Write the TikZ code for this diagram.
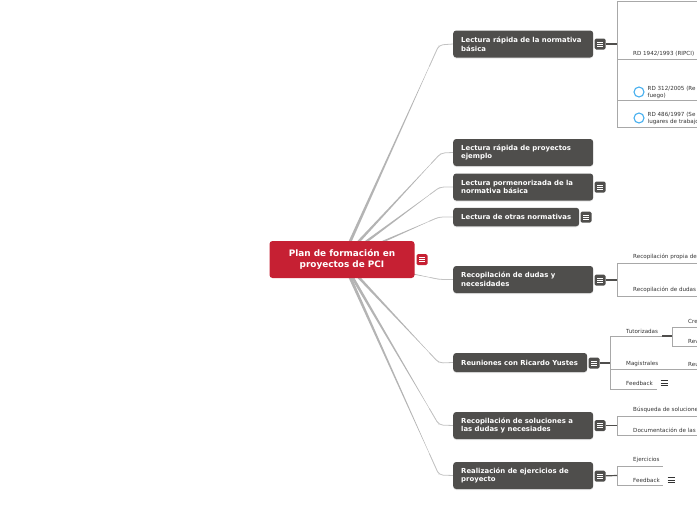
\documentclass[tikz,border=0pt]{standalone}
\usepackage{fontspec}
\setmainfont{DejaVu Sans}
\usetikzlibrary{calc,backgrounds,shadows}
\definecolor{rootred}{HTML}{C62033}
\definecolor{topicgray}{HTML}{4F4E4C}
\definecolor{branchgray}{HTML}{B4B4B4}
\definecolor{leafgray}{HTML}{A8A8A8}
\definecolor{ringblue}{HTML}{45AEEE}
\tikzset{
	topic/.style={fill=topicgray,text=white,font=\bfseries\fontsize{6.9}{8.6}\selectfont,rounded corners=3,anchor=west,align=flush left,inner xsep=8,inner ysep=0,minimum height=27,text width=124,drop shadow={shadow xshift=0pt,shadow yshift=-1pt,opacity=.2}},
	rootnode/.style={fill=rootred,text=white,font=\bfseries\fontsize{8.9}{11}\selectfont,rounded corners=3,align=center,minimum width=145,minimum height=37,inner sep=0},
	leaf/.style={font=\fontsize{5.6}{7}\selectfont,text=black!80,anchor=west,align=left,inner sep=0},
	menubox/.style={fill=#1,rounded corners=1.5,minimum size=11,inner sep=0,path picture={
		\foreach \i in {-2.2,0,2.2}
			\draw[white,line width=.6] ($(path picture bounding box.center)+(-3,\i)$) -- ++(6,0);}},
	menuplain/.style={minimum size=9,inner sep=0,path picture={
		\foreach \i in {-2.6,0,2.6}
			\draw[black!80,line width=.6] ($(path picture bounding box.center)+(-3.5,\i)$) -- ++(7,0);}},
	ring/.style={circle,draw=ringblue,line width=1.1,minimum size=10,inner sep=0},
	stem/.style={draw=topicgray,line width=1.2},
	leafline/.style={draw=leafgray,line width=.8},
}
\begin{document}
\begin{tikzpicture}[x=1pt,y=-1pt]
	\useasboundingbox[clip] (0,0) rectangle (697,520);
	%main topics
	\node[rootnode] (root) at (342,259.5) {Plan de formación en\\proyectos de PCI};
	\node[topic] (rapida) at (453,44) {Lectura rápida de la normativa\\básica};
	\node[topic] (ejemplo) at (453,152.5) {Lectura rápida de proyectos\\ejemplo};
	\node[topic] (pormenor) at (453,187) {Lectura pormenorizada de la\\normativa básica};
	\node[topic,minimum height=18.5,text width=110] (otras) at (453,217) {Lectura de otras normativas};
	\node[topic] (dudas) at (453,279.5) {Recopilación de dudas y\\necesidades};
	\node[topic,minimum height=19,text width=118] (reuniones) at (453,362.5) {Reuniones con Ricardo Yustes};
	\node[topic] (soluciones) at (453,425.5) {Recopilación de soluciones a\\las dudas y necesiades};
	\node[topic] (ejercicios) at (453,475.5) {Realización de ejercicios de\\proyecto};
	%icons
	\node[menubox=rootred] (iconroot) at (422,259.5) {};
	\node[menubox=topicgray] (iconrapida) at (600,44) {};
	\node[menubox=topicgray] (iconpormenor) at (600,187) {};
	\node[menubox=topicgray] (iconotras) at (586,217) {};
	\node[menubox=topicgray] (icondudas) at (600,280) {};
	\node[menubox=topicgray] (iconreuniones) at (594,363) {};
	\node[menubox=topicgray] (iconsoluciones) at (600,425.5) {};
	\node[menubox=topicgray] (iconejercicios) at (600,476) {};
	%branches from the root
	\begin{scope}[on background layer]
		\foreach \t/\kx/\ky in {rapida/439/45,ejemplo/441/153,pormenor/440/187,otras/439/217,dudas/440/279.5,reuniones/439/363,soluciones/439/425,ejercicios/439/475}{
			\coordinate (k\t) at (\kx,\ky);
			\fill[branchgray] ($(root.center)!1.6pt!90:(k\t)$) -- (k\t) -- ($(root.center)!1.6pt!-90:(k\t)$) -- cycle;
			\draw[branchgray!80,line width=.8,rounded corners=4] ($(root.center)!.9!(k\t)$) -- (k\t) -- (\t.west);
		}
	\end{scope}
	%normativa basica
	\coordinate (trunkrapida) at (617,44);
	\coordinate (endrapida0) at (697,1);
	\coordinate (endrapida1) at (697,59);
	\coordinate (endrapida2) at (697,100.5);
	\coordinate (endrapida3) at (697,127);
	\draw[leafline] (trunkrapida) |- (endrapida0);
	\draw[leafline] (trunkrapida) |- (endrapida1);
	\draw[leafline] (trunkrapida) |- (endrapida2);
	\draw[leafline] (trunkrapida) |- (endrapida3);
	\draw[stem] (iconrapida) -- (trunkrapida);
	\node[leaf] (ripci) at (633,54) {RD 1942/1993 (RIPCI)};
	\node[ring] (ringa) at (639,92) {};
	\node[ring] (ringb) at (639,118) {};
	\node[leaf] (rd312) at (647.5,92) {RD 312/2005 (Re\\fuego)};
	\node[leaf] (rd486) at (647.5,118.5) {RD 486/1997 (Se\\lugares de trabajo};
	%dudas
	\coordinate (trunkdudas) at (617,280);
	\coordinate (enddudas1) at (697,263);
	\coordinate (enddudas2) at (697,296);
	\draw[leafline] (trunkdudas) |- (enddudas1);
	\draw[leafline] (trunkdudas) |- (enddudas2);
	\draw[stem] (icondudas) -- (trunkdudas);
	\node[leaf] (propia) at (633,257) {Recopilación propia de};
	\node[leaf] (terceros) at (633,290) {Recopilación de dudas};
	%reuniones
	\coordinate (trunkreuniones) at (610,363);
	\coordinate (endtutor) at (662,336);
	\coordinate (trunktutor) at (672,336);
	\coordinate (endmagis) at (697,369.5);
	\coordinate (endfeeda) at (657,389);
	\coordinate (endcre) at (697,327);
	\coordinate (endrev) at (697,346);
	\draw[leafline] (trunkreuniones) |- (endtutor);
	\draw[leafline] (trunkreuniones) |- (endmagis);
	\draw[leafline] (trunkreuniones) |- (endfeeda);
	\draw[stem] (iconreuniones) -- (trunkreuniones);
	\draw[stem] (endtutor) -- (trunktutor);
	\draw[leafline] (trunktutor) |- (endcre);
	\draw[leafline] (trunktutor) |- (endrev);
	\node[leaf] (tutor) at (626,331) {Tutorizadas};
	\node[leaf] (cre) at (688,321) {Cre};
	\node[leaf] (rev) at (688,341) {Rev};
	\node[leaf] (magis) at (626,364) {Magistrales};
	\node[leaf] (reu) at (688,364) {Reu};
	\node[leaf] (feeda) at (626,383) {Feedback};
	\node[menuplain] (menufeeda) at (664,383) {};
	%soluciones
	\coordinate (trunksol) at (617,425.5);
	\coordinate (endsol1) at (697,416);
	\coordinate (endsol2) at (697,435.5);
	\draw[leafline] (trunksol) |- (endsol1);
	\draw[leafline] (trunksol) |- (endsol2);
	\draw[stem] (iconsoluciones) -- (trunksol);
	\node[leaf] (busqueda) at (633,410) {Búsqueda de soluciones};
	\node[leaf] (docu) at (633,430) {Documentación de las};
	%ejercicios
	\coordinate (trunkeje) at (617,475.5);
	\coordinate (endeje1) at (663,466);
	\coordinate (endeje2) at (663,485.5);
	\draw[leafline] (trunkeje) |- (endeje1);
	\draw[leafline] (trunkeje) |- (endeje2);
	\draw[stem] (iconejercicios) -- (trunkeje);
	\node[leaf] (ejer) at (633,460) {Ejercicios};
	\node[leaf] (feedb) at (633,480) {Feedback};
	\node[menuplain] (menufeedb) at (671,480) {};
\end{tikzpicture}
\end{document}
